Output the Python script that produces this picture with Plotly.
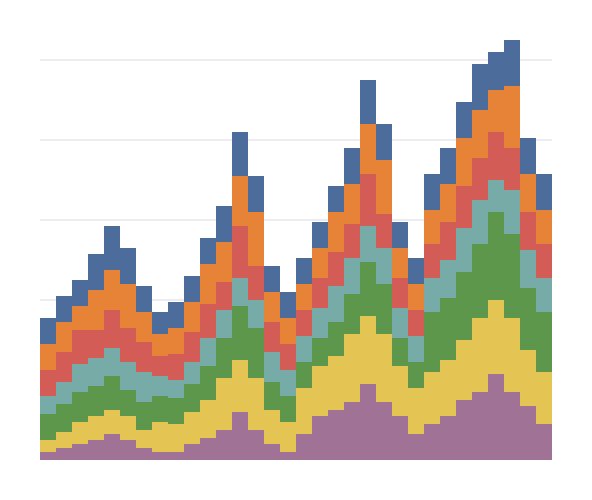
import plotly.graph_objects as go

# one value per step, 32 steps
steps = list(range(32))

purple = [4, 6, 8, 10, 13, 10, 6, 4, 4, 8, 11, 15, 24, 15, 8, 4,
          13, 22, 25, 29, 38, 29, 22, 13, 18, 22, 30, 34, 43, 34, 27, 18]
yellow = [6, 8, 11, 12, 12, 12, 9, 15, 14, 16, 19, 26, 26, 26, 17, 15,
          23, 25, 27, 34, 34, 34, 25, 23, 26, 28, 30, 37, 37, 37, 28, 26]
green = [13, 14, 15, 15, 17, 13, 14, 13, 13, 14, 17, 20, 27, 25, 14, 13,
         13, 14, 17, 20, 27, 25, 14, 13, 30, 31, 34, 37, 44, 42, 31, 30]
teal = [9, 11, 14, 14, 14, 14, 15, 10, 9, 11, 14, 14, 14, 14, 15, 13,
        13, 15, 18, 18, 18, 18, 15, 13, 17, 19, 22, 22, 16, 22, 19, 17]
red = [13, 15, 17, 14, 19, 17, 15, 10, 13, 15, 17, 14, 26, 17, 15, 13,
       13, 15, 17, 17, 26, 17, 15, 13, 17, 19, 21, 21, 24, 21, 19, 17]
orange = [13, 15, 12, 20, 20, 22, 15, 11, 13, 15, 20, 20, 25, 27, 15, 13,
          13, 15, 20, 20, 25, 27, 15, 13, 17, 19, 24, 24, 21, 31, 19, 17]
blue = [13, 13, 13, 18, 22, 18, 13, 11, 13, 13, 13, 18, 22, 18, 13, 13,
        13, 13, 13, 18, 22, 18, 13, 13, 18, 18, 18, 23, 19, 23, 18, 18]

series = [
    ("purple", purple, "#a07396"),
    ("yellow", yellow, "#e4c452"),
    ("green", green, "#5d974c"),
    ("teal", teal, "#77aba8"),
    ("red", red, "#d35c57"),
    ("orange", orange, "#e68336"),
    ("blue", blue, "#4c6c9c"),
]

# extra point so the last step gets its full width
x = steps + [len(steps)]

fig = go.Figure()
for name, vals, color in series:
    fig.add_trace(go.Scatter(
        x=x,
        y=vals + [vals[-1]],
        name=name,
        mode="lines",
        line=dict(width=0, shape="hv", color=color),
        fillcolor=color,
        stackgroup="one",
        hoverinfo="skip",
    ))

# page body adds 8px, so margins are shifted to keep the plot at 40..552 / 40..460
fig.update_layout(
    width=592,
    height=500,
    margin=dict(l=32, r=48, t=32, b=48),
    paper_bgcolor="white",
    plot_bgcolor="white",
    showlegend=False,
    xaxis=dict(
        range=[0, 32],
        showgrid=False,
        zeroline=False,
        showticklabels=False,
        ticks="",
    ),
    yaxis=dict(
        range=[0, 210],
        dtick=40,
        showgrid=True,
        gridcolor="#ebebf0",
        gridwidth=1.5,
        zeroline=False,
        showticklabels=False,
        ticks="",
    ),
)

fig.write_html("out.html")
